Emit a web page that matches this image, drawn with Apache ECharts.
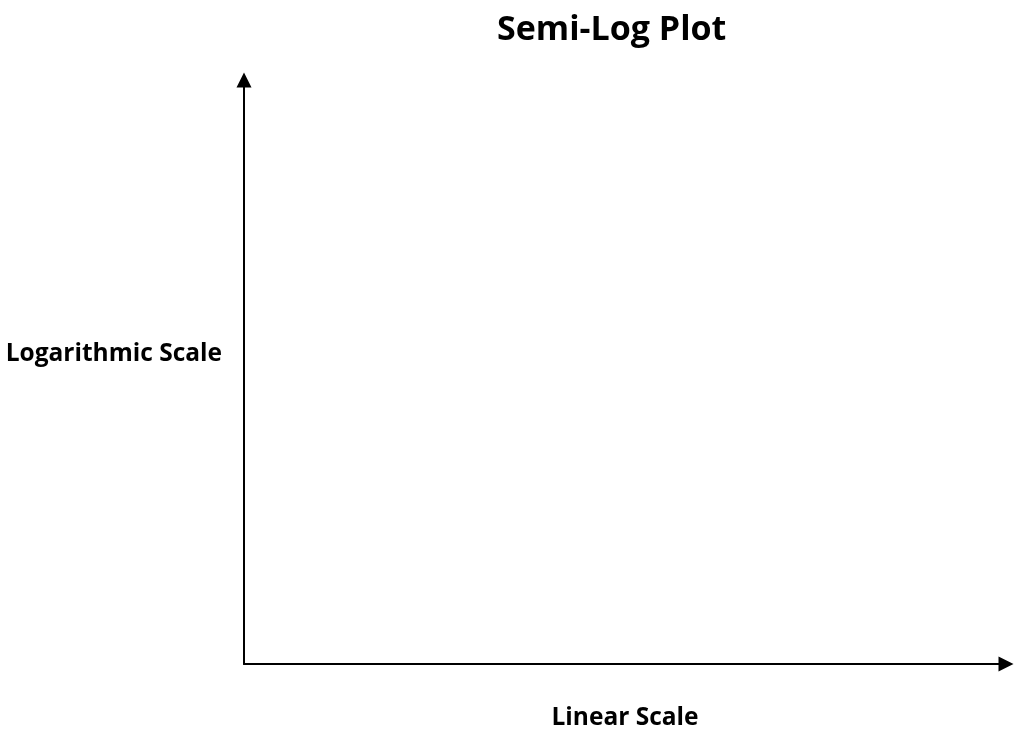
<!DOCTYPE html>
<html>
<head>
<meta charset="utf-8">
<script src="https://cdn.jsdelivr.net/npm/echarts@6/dist/echarts.min.js"></script>
<style>html,body{margin:0;padding:0;background:#fff}#c{width:1024px;height:741px}</style>
</head>
<body>
<div id="c"></div>
<script>
var titleText = 'Semi-Log Plot';
var xAxisName = 'Linear Scale';
var yAxisName = 'Logarithmic Scale';
var xRange = [0, 10];
var yRange = [1, 1000];

var chart = echarts.init(document.getElementById('c'));
var axisLineStyle = {color: '#000', width: 2};
chart.setOption({
  backgroundColor: '#fff',
  animation: false,
  title: {
    text: titleText,
    left: 492,
    top: 8,
    textStyle: {fontFamily: 'Open Sans', fontWeight: 'bold', fontSize: 34, color: '#000'}
  },
  grid: {left: 244, right: 18, top: 80, bottom: 77},
  xAxis: {
    type: 'value',
    min: xRange[0], max: xRange[1],
    name: xAxisName,
    nameLocation: 'middle',
    nameGap: 42,
    nameTextStyle: {fontFamily: 'Open Sans', fontWeight: 'bold', fontSize: 24.5, color: '#000'},
    axisLine: {show: true, lineStyle: axisLineStyle, symbol: ['none', 'triangle'], symbolSize: [15, 15]},
    axisTick: {show: false}, axisLabel: {show: false}, splitLine: {show: false}
  },
  yAxis: {
    type: 'log',
    min: yRange[0], max: yRange[1],
    name: yAxisName,
    nameLocation: 'middle',
    nameRotate: 0,
    nameGap: 22,
    nameTextStyle: {fontFamily: 'Open Sans', fontWeight: 'bold', fontSize: 24.5, color: '#000', align: 'right', verticalAlign: 'bottom', lineHeight: 36},
    axisLine: {show: true, onZero: false, lineStyle: axisLineStyle, symbol: ['none', 'triangle'], symbolSize: [15, 15]},
    axisTick: {show: false}, axisLabel: {show: false}, splitLine: {show: false}
  },
  series: []
});
</script>
</body>
</html>
